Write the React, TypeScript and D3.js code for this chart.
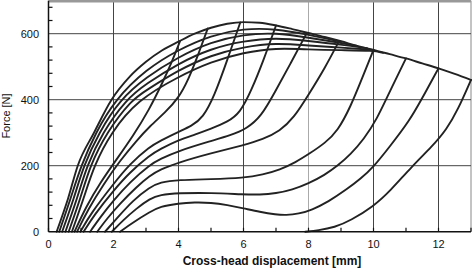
import React from "react";
import * as d3 from "d3";

type P = [number, number];

const xTicks = [0, 2, 4, 6, 8, 10, 12];
const yTicks = [0, 200, 400, 600];

const envelope: P[] = [[0.25,0],[0.6,100],[0.9,200],[1.4,300],[1.94,400],[2.5,470],[3,515],[3.5,550],[4,576],[4.5,600],[5,618],[5.5,630],[6,635],[6.5,633],[7,625],[7.5,614],[8,602],[8.5,590],[9,577],[9.5,563],[10,551],[10.5,538],[11,525],[11.5,510],[12,495],[12.5,478],[13,460]];

const left1: P[] = [[0.33,0],[0.68,100],[1.0,200],[1.45,300],[2.05,400],[3,492],[4,552],[5,595],[6,616],[7,615],[8,597],[9,576]];
const left2: P[] = [[0.42,0],[0.78,100],[1.08,200],[1.55,300],[2.2,400],[3,468],[4,530],[5,575],[6,598],[7,603],[8,588],[9,572],[9.5,563]];
const left3: P[] = [[0.52,0],[0.88,100],[1.18,200],[1.66,300],[2.38,400],[3,448],[4,510],[5,555],[6,578],[7,588],[8,578],[9,567],[9.8,556]];
const left4: P[] = [[0.62,0],[0.98,100],[1.28,200],[1.78,300],[2.56,400],[3,428],[4,490],[5,535],[6,560],[7,572],[8,564],[9,558],[10,551]];
const left5: P[] = [[0.72,0],[1.08,100],[1.4,200],[1.92,300],[2.75,400],[4,470],[5,515],[6,543],[7,557],[8,552],[9,550],[10,549],[10.3,542]];

const r10: P[] = [[0.8,0],[1.15,75],[1.6,150],[2.1,220],[2.6,290],[3.1,370],[3.5,450],[3.8,515],[4.05,578]];
const r9: P[] = [[0.88,0],[1.2,65],[1.7,145],[2.2,215],[2.7,275],[3.12,320],[3.6,362],[4.0,405],[4.3,460],[4.6,535],[4.9,616]];
const r8: P[] = [[0.98,0],[1.3,55],[2,145],[2.5,205],[3.12,258],[3.43,275],[4,303],[4.4,320],[4.75,345],[5.1,410],[5.5,520],[5.9,634]];
const r7: P[] = [[1.08,0],[1.4,50],[2,125],[2.5,180],[3.12,232],[3.43,250],[4,278],[4.5,294],[5,312],[5.5,332],[5.9,360],[6.25,430],[6.6,515],[7,625]];
const r6: P[] = [[1.28,0],[1.6,45],[2,95],[2.5,150],[3.12,203],[3.43,220],[4,245],[5,275],[5.6,292],[6.1,312],[6.55,350],[6.95,420],[7.45,510],[7.94,601]];
const r5: P[] = [[1.5,0],[1.8,40],[2.2,85],[2.7,135],[3.12,170],[3.43,188],[4,210],[5,238],[6,262],[6.6,280],[7.12,305],[7.55,345],[8,415],[8.5,495],[8.94,578]];
const r4: P[] = [[1.74,0],[2.1,40],[2.6,95],[3.12,135],[3.43,150],[4,157],[5,159],[6,163],[6.6,173],[7.12,188],[7.6,210],[8.05,238],[8.5,268],[8.9,305],[9.3,380],[9.65,465],[10,551]];
const r3: P[] = [[1.95,0],[2.3,35],[2.7,70],[3.12,100],[3.43,112],[4,117],[5,118],[6,113],[6.5,112],[7,116],[7.5,127],[8,146],[8.5,172],[8.9,200],[9.3,235],[9.7,280],[10.1,340],[10.5,425],[11,525]];
const r2: P[] = [[2.2,0],[2.6,28],[3.12,60],[3.43,76],[4,86],[4.5,89],[5,88],[5.5,81],[6,71],[6.5,60],[7,52],[7.3,50],[7.7,54],[8.1,66],[8.6,90],[9.2,130],[9.6,160],[10,196],[10.5,258],[11.1,335],[11.5,405],[12,495]];
const r1: P[] = [[7.9,0],[8.3,4],[8.8,13],[9.3,34],[10,77],[10.5,122],[11.2,200],[11.8,258],[12.25,310],[12.6,370],[13,460]];

const curves: P[][] = [left1, left2, left3, left4, left5, r10, r9, r8, r7, r6, r5, r4, r3, r2, r1];

const W = 474, H = 276;
const x = d3.scaleLinear().domain([0, 13]).range([48.5, 471]);
const y = d3.scaleLinear().domain([0, 600]).range([231.7, 33.7]);

export default function App() {
  const smooth = d3.line<P>().x(d => x(d[0])).y(d => y(d[1])).curve(d3.curveBasis);
  const envLine = d3.line<P>().x(d => x(d[0])).y(d => y(d[1])).curve(d3.curveMonotoneX);
  const minorX = d3.range(1, 14, 2);
  const minorY = d3.range(0, 701, 40).filter(v => v % 200 !== 0);
  const font = "Liberation Sans, Arial, sans-serif";
  return (
    <svg width={W} height={H} style={{ position: "absolute", left: 0, top: 0, background: "#fff" }}>
      {xTicks.filter(v => v > 0).map(v => (
        <line key={"gx" + v} x1={x(v)} x2={x(v)} y1={y(700)} y2={y(0)} stroke={v === 8 ? "#aaa" : "#444"} strokeWidth={1} />
      ))}
      <line x1={x(13)} x2={x(13)} y1={y(700)} y2={y(0)} stroke="#888" strokeWidth={1} />
      {yTicks.filter(v => v > 0).map(v => (
        <line key={"gy" + v} x1={x(0)} x2={x(13)} y1={y(v)} y2={y(v)} stroke="#444" strokeWidth={1} />
      ))}
      <line x1={x(0)} x2={x(13)} y1={y(700) + 0.5} y2={y(700) + 0.5} stroke="#999" strokeWidth={2.5} />
      <g fill="none" stroke="#222" strokeWidth={1.9} strokeLinejoin="round" strokeLinecap="round">
        {curves.map((c, i) => <path key={i} d={smooth(c) || ""} />)}
        <path d={envLine(envelope) || ""} />
      </g>
      <line x1={x(0)} x2={x(0)} y1={y(700)} y2={y(0)} stroke="#111" strokeWidth={1.5} />
      <line x1={x(0)} x2={x(13)} y1={y(0)} y2={y(0)} stroke="#111" strokeWidth={1.5} />
      {minorY.map(v => (
        <line key={"my" + v} x1={x(0)} x2={x(0) + 4} y1={y(v)} y2={y(v)} stroke="#111" strokeWidth={1.2} />
      ))}
      {minorX.map(v => (
        <line key={"mx" + v} x1={x(v)} x2={x(v)} y1={y(0)} y2={y(0) - 4} stroke="#111" strokeWidth={1.2} />
      ))}
      {xTicks.map(v => (
        <line key={"tx" + v} x1={x(v)} x2={x(v)} y1={y(0)} y2={y(0) - 4} stroke="#111" strokeWidth={1.2} />
      ))}
      {yTicks.map(v => (
        <text key={"ly" + v} x={39} y={y(v) + 4} textAnchor="end" fontFamily={font} fontSize={11} fill="#111">{v}</text>
      ))}
      {xTicks.map(v => (
        <text key={"lx" + v} x={x(v)} y={248} textAnchor="middle" fontFamily={font} fontSize={11} fill="#111">{v}</text>
      ))}
      <text x={272} y={265} textAnchor="middle" fontFamily={font} fontSize={12} fontWeight="bold" fill="#111">Cross-head displacement [mm]</text>
      <text transform={`translate(10,116) rotate(-90)`} textAnchor="middle" fontFamily={font} fontSize={11} fill="#111">Force [N]</text>
    </svg>
  );
}
